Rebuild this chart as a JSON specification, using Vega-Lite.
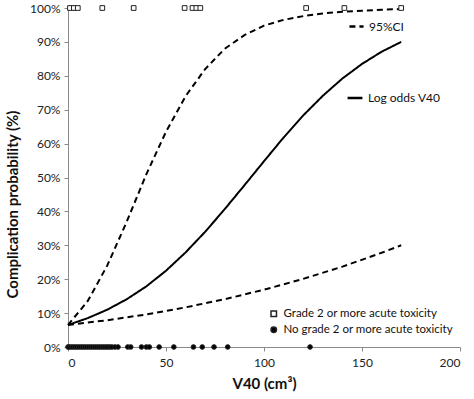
{
  "$schema": "https://vega.github.io/schema/vega-lite/v6.json",
  "width": 392,
  "height": 339,
  "autosize": "none",
  "padding": {"left": 68, "top": 8, "right": 14, "bottom": 52},
  "background": "white",
  "config": {
    "font": "Lato",
    "view": {"stroke": null},
    "axis": {"grid": false, "domainColor": "#8a8a8a", "tickColor": "#8a8a8a", "labelColor": "#222", "titleColor": "#111", "labelFont": "Lato", "titleFont": "Lato", "labelFontSize": 12, "titleFontSize": 15, "titleFontWeight": "bold", "tickSize": 4},
    "legend": {"labelFont": "Lato", "labelFontSize": 12, "labelColor": "#111", "labelLimit": 0}
  },
  "datasets": {
    "curves": [
      {"v40": 0, "p": 0.065, "curve": "upper", "legend": "95%CI"},
      {"v40": 10, "p": 0.135, "curve": "upper", "legend": "95%CI"},
      {"v40": 20, "p": 0.24, "curve": "upper", "legend": "95%CI"},
      {"v40": 30, "p": 0.37, "curve": "upper", "legend": "95%CI"},
      {"v40": 40, "p": 0.51, "curve": "upper", "legend": "95%CI"},
      {"v40": 50, "p": 0.635, "curve": "upper", "legend": "95%CI"},
      {"v40": 60, "p": 0.74, "curve": "upper", "legend": "95%CI"},
      {"v40": 70, "p": 0.82, "curve": "upper", "legend": "95%CI"},
      {"v40": 80, "p": 0.88, "curve": "upper", "legend": "95%CI"},
      {"v40": 90, "p": 0.92, "curve": "upper", "legend": "95%CI"},
      {"v40": 100, "p": 0.948, "curve": "upper", "legend": "95%CI"},
      {"v40": 110, "p": 0.965, "curve": "upper", "legend": "95%CI"},
      {"v40": 120, "p": 0.976, "curve": "upper", "legend": "95%CI"},
      {"v40": 130, "p": 0.984, "curve": "upper", "legend": "95%CI"},
      {"v40": 140, "p": 0.989, "curve": "upper", "legend": "95%CI"},
      {"v40": 150, "p": 0.992, "curve": "upper", "legend": "95%CI"},
      {"v40": 160, "p": 0.995, "curve": "upper", "legend": "95%CI"},
      {"v40": 170, "p": 0.997, "curve": "upper", "legend": "95%CI"},
      {"v40": 0, "p": 0.065, "curve": "lower", "legend": "95%CI"},
      {"v40": 20, "p": 0.079, "curve": "lower", "legend": "95%CI"},
      {"v40": 40, "p": 0.096, "curve": "lower", "legend": "95%CI"},
      {"v40": 60, "p": 0.117, "curve": "lower", "legend": "95%CI"},
      {"v40": 80, "p": 0.141, "curve": "lower", "legend": "95%CI"},
      {"v40": 100, "p": 0.169, "curve": "lower", "legend": "95%CI"},
      {"v40": 120, "p": 0.201, "curve": "lower", "legend": "95%CI"},
      {"v40": 140, "p": 0.237, "curve": "lower", "legend": "95%CI"},
      {"v40": 160, "p": 0.278, "curve": "lower", "legend": "95%CI"},
      {"v40": 170, "p": 0.30, "curve": "lower", "legend": "95%CI"},
      {"v40": 0, "p": 0.065, "curve": "fit", "legend": "Log odds V40"},
      {"v40": 10, "p": 0.085, "curve": "fit", "legend": "Log odds V40"},
      {"v40": 20, "p": 0.11, "curve": "fit", "legend": "Log odds V40"},
      {"v40": 30, "p": 0.141, "curve": "fit", "legend": "Log odds V40"},
      {"v40": 40, "p": 0.179, "curve": "fit", "legend": "Log odds V40"},
      {"v40": 50, "p": 0.225, "curve": "fit", "legend": "Log odds V40"},
      {"v40": 60, "p": 0.279, "curve": "fit", "legend": "Log odds V40"},
      {"v40": 70, "p": 0.34, "curve": "fit", "legend": "Log odds V40"},
      {"v40": 80, "p": 0.407, "curve": "fit", "legend": "Log odds V40"},
      {"v40": 90, "p": 0.477, "curve": "fit", "legend": "Log odds V40"},
      {"v40": 100, "p": 0.548, "curve": "fit", "legend": "Log odds V40"},
      {"v40": 110, "p": 0.618, "curve": "fit", "legend": "Log odds V40"},
      {"v40": 120, "p": 0.683, "curve": "fit", "legend": "Log odds V40"},
      {"v40": 130, "p": 0.741, "curve": "fit", "legend": "Log odds V40"},
      {"v40": 140, "p": 0.792, "curve": "fit", "legend": "Log odds V40"},
      {"v40": 150, "p": 0.835, "curve": "fit", "legend": "Log odds V40"},
      {"v40": 160, "p": 0.871, "curve": "fit", "legend": "Log odds V40"},
      {"v40": 170, "p": 0.90, "curve": "fit", "legend": "Log odds V40"}
    ],
    "obs": [
      {"v40": 1, "p": 1, "group": "Grade 2 or more acute toxicity"},
      {"v40": 3, "p": 1, "group": "Grade 2 or more acute toxicity"},
      {"v40": 5, "p": 1, "group": "Grade 2 or more acute toxicity"},
      {"v40": 17.5, "p": 1, "group": "Grade 2 or more acute toxicity"},
      {"v40": 33.5, "p": 1, "group": "Grade 2 or more acute toxicity"},
      {"v40": 59.5, "p": 1, "group": "Grade 2 or more acute toxicity"},
      {"v40": 63.5, "p": 1, "group": "Grade 2 or more acute toxicity"},
      {"v40": 65.5, "p": 1, "group": "Grade 2 or more acute toxicity"},
      {"v40": 67.5, "p": 1, "group": "Grade 2 or more acute toxicity"},
      {"v40": 121.5, "p": 1, "group": "Grade 2 or more acute toxicity"},
      {"v40": 141, "p": 1, "group": "Grade 2 or more acute toxicity"},
      {"v40": 170, "p": 1, "group": "Grade 2 or more acute toxicity"},
      {"v40": 0, "p": 0, "group": "No grade 2 or more acute toxicity"},
      {"v40": 0.5, "p": 0, "group": "No grade 2 or more acute toxicity"},
      {"v40": 1.5, "p": 0, "group": "No grade 2 or more acute toxicity"},
      {"v40": 2.5, "p": 0, "group": "No grade 2 or more acute toxicity"},
      {"v40": 3.5, "p": 0, "group": "No grade 2 or more acute toxicity"},
      {"v40": 4.5, "p": 0, "group": "No grade 2 or more acute toxicity"},
      {"v40": 5.5, "p": 0, "group": "No grade 2 or more acute toxicity"},
      {"v40": 6.5, "p": 0, "group": "No grade 2 or more acute toxicity"},
      {"v40": 7.5, "p": 0, "group": "No grade 2 or more acute toxicity"},
      {"v40": 8.5, "p": 0, "group": "No grade 2 or more acute toxicity"},
      {"v40": 9.5, "p": 0, "group": "No grade 2 or more acute toxicity"},
      {"v40": 10.5, "p": 0, "group": "No grade 2 or more acute toxicity"},
      {"v40": 11.5, "p": 0, "group": "No grade 2 or more acute toxicity"},
      {"v40": 12.5, "p": 0, "group": "No grade 2 or more acute toxicity"},
      {"v40": 13.5, "p": 0, "group": "No grade 2 or more acute toxicity"},
      {"v40": 14.5, "p": 0, "group": "No grade 2 or more acute toxicity"},
      {"v40": 15.5, "p": 0, "group": "No grade 2 or more acute toxicity"},
      {"v40": 16.5, "p": 0, "group": "No grade 2 or more acute toxicity"},
      {"v40": 17.5, "p": 0, "group": "No grade 2 or more acute toxicity"},
      {"v40": 18.5, "p": 0, "group": "No grade 2 or more acute toxicity"},
      {"v40": 19.5, "p": 0, "group": "No grade 2 or more acute toxicity"},
      {"v40": 20.5, "p": 0, "group": "No grade 2 or more acute toxicity"},
      {"v40": 21.5, "p": 0, "group": "No grade 2 or more acute toxicity"},
      {"v40": 22.5, "p": 0, "group": "No grade 2 or more acute toxicity"},
      {"v40": 24, "p": 0, "group": "No grade 2 or more acute toxicity"},
      {"v40": 25.5, "p": 0, "group": "No grade 2 or more acute toxicity"},
      {"v40": 30.5, "p": 0, "group": "No grade 2 or more acute toxicity"},
      {"v40": 32, "p": 0, "group": "No grade 2 or more acute toxicity"},
      {"v40": 37.5, "p": 0, "group": "No grade 2 or more acute toxicity"},
      {"v40": 40, "p": 0, "group": "No grade 2 or more acute toxicity"},
      {"v40": 41.5, "p": 0, "group": "No grade 2 or more acute toxicity"},
      {"v40": 46.5, "p": 0, "group": "No grade 2 or more acute toxicity"},
      {"v40": 54, "p": 0, "group": "No grade 2 or more acute toxicity"},
      {"v40": 64, "p": 0, "group": "No grade 2 or more acute toxicity"},
      {"v40": 68.5, "p": 0, "group": "No grade 2 or more acute toxicity"},
      {"v40": 74.5, "p": 0, "group": "No grade 2 or more acute toxicity"},
      {"v40": 81.5, "p": 0, "group": "No grade 2 or more acute toxicity"},
      {"v40": 123.5, "p": 0, "group": "No grade 2 or more acute toxicity"}
    ]
  },
  "encoding": {
    "x": {"field": "v40", "type": "quantitative", "scale": {"domain": [0, 200], "nice": false}, "axis": {"values": [0, 50, 100, 150, 200], "title": "V40 (cm³)", "titlePadding": 8, "labelPadding": 6}},
    "y": {"field": "p", "type": "quantitative", "scale": {"domain": [0, 1], "nice": false}, "axis": {"values": [0, 0.1, 0.2, 0.3, 0.4, 0.5, 0.6, 0.7, 0.8, 0.9, 1], "format": ".0%", "title": "Complication probability (%)", "titleX": -48, "titleY": 196, "labelPadding": 4}}
  },
  "layer": [
    {
      "data": {"name": "curves"},
      "transform": [{"filter": "datum.curve !== 'fit'"}],
      "mark": {"type": "line", "color": "#000", "strokeWidth": 2},
      "encoding": {
        "detail": {"field": "curve"},
        "strokeDash": {"field": "legend", "type": "nominal", "scale": {"domain": ["95%CI"], "range": [[6, 4]]}, "legend": {"title": null, "orient": "none", "legendX": 280, "legendY": 10, "symbolStrokeColor": "#000", "symbolStrokeWidth": 2.5, "symbolSize": 200, "symbolType": "stroke"}}
      }
    },
    {
      "data": {"name": "curves"},
      "transform": [{"filter": "datum.curve === 'fit'"}],
      "mark": {"type": "line", "color": "#000", "strokeWidth": 2},
      "encoding": {
        "strokeDash": {"field": "legend", "type": "nominal", "scale": {"domain": ["Log odds V40"], "range": [[1, 0]]}, "legend": {"title": null, "orient": "none", "legendX": 278, "legendY": 81, "symbolStrokeColor": "#000", "symbolStrokeWidth": 2.5, "symbolSize": 220, "symbolType": "stroke"}}
      }
    },
    {
      "data": {"name": "obs"},
      "mark": {"type": "point", "stroke": "#222", "strokeWidth": 1, "size": 22, "opacity": 1},
      "encoding": {
        "shape": {"field": "group", "type": "nominal", "scale": {"domain": ["Grade 2 or more acute toxicity", "No grade 2 or more acute toxicity"], "range": ["square", "circle"]}, "legend": {"title": null, "orient": "none", "legendX": 200, "legendY": 300, "symbolSize": 30, "labelFontSize": 11.5, "rowPadding": 3, "labelLimit": 0}},
        "fill": {"field": "group", "type": "nominal", "scale": {"domain": ["Grade 2 or more acute toxicity", "No grade 2 or more acute toxicity"], "range": ["white", "black"]}, "legend": {"title": null, "orient": "none", "legendX": 200, "legendY": 300, "symbolSize": 30, "labelFontSize": 11.5, "rowPadding": 3, "labelLimit": 0}}
      }
    }
  ],
  "resolve": {"scale": {"strokeDash": "independent"}, "legend": {"strokeDash": "independent"}}
}
